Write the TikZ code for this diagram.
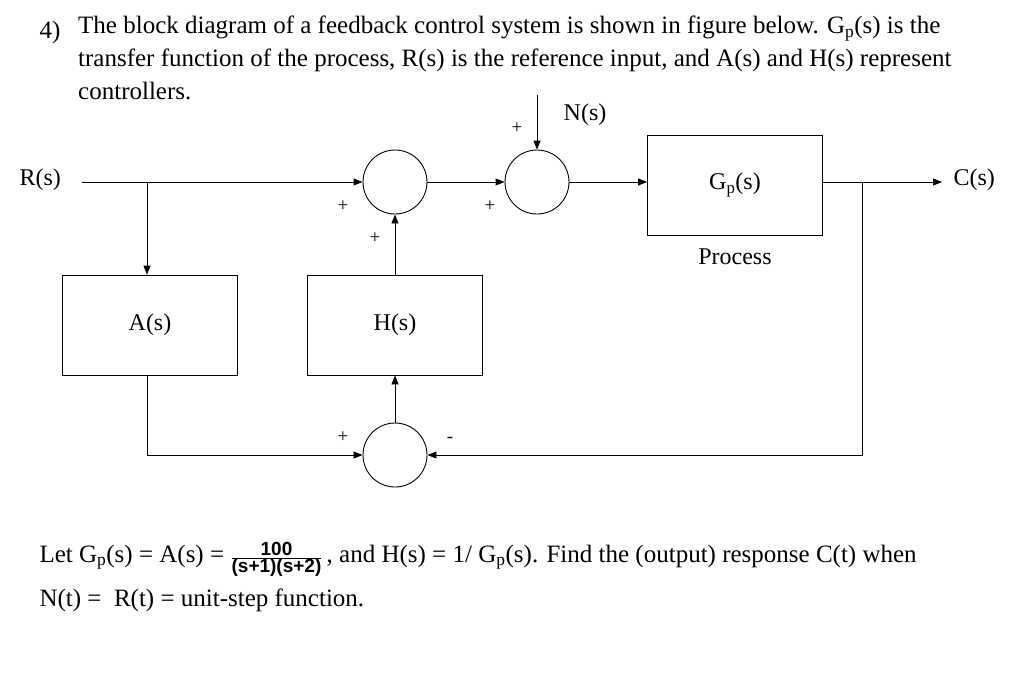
\documentclass[tikz,border=0pt]{standalone}
\usepackage{fontspec}
\setmainfont{Liberation Serif}
\newfontfamily\sansf{Liberation Sans}
\usetikzlibrary{arrows.meta}
\begin{document}
\begin{tikzpicture}[x=1pt,y=-1pt,
  every node/.style={font=\fontsize{24}{33}\selectfont},
  blk/.style={draw,line width=0.9pt,minimum width=175pt,minimum height=100pt,inner sep=0pt},
  sumn/.style={draw,circle,line width=0.9pt,minimum size=64pt,inner sep=0pt},
  ln/.style={line width=0.9pt},
  ar/.style={line width=0.9pt,-{Triangle[length=9pt,width=7pt]}},
  sg/.style={font=\fontsize{19}{20}\selectfont,inner sep=0pt}]
\useasboundingbox (0,0) rectangle (1024,673);
\node[anchor=west,font=\fontsize{25}{33}\selectfont] (n4) at (36,32) {4)};
\node[anchor=north west,align=left,inner sep=0pt,font=\fontsize{25}{33}\selectfont] (tx) at (78,16) {The block diagram of a feedback control system is shown in figure below. G\textsubscript{p}(s) is the\\transfer function of the process, R(s) is the reference input, and A(s) and H(s) represent\\controllers.};
\node[anchor=west] (r) at (16,180) {R(s)};
\coordinate (rs) at (82,182);
\coordinate (br) at (147,182);
\node[sumn] (s1) at (395,182) {};
\node[sumn] (s2) at (537,182) {};
\node[sumn] (s3) at (395,455) {};
\node[blk] (a) at (150,325) {A(s)};
\node[blk] (h) at (395,325) {H(s)};
\node[blk] (g) at (735,185) {G\textsubscript{p}(s)};
\node (pr) at (735,257) {Process};
\node[anchor=west] (c) at (950,180) {C(s)};
\coordinate (ce) at (942,182);
\coordinate (bc) at (862,182);
\coordinate (nt) at (537,95);
\node (ns) at (585,115) {N(s)};
\draw[ln] (rs) -- (br);
\draw[ar] (br) -- (s1.west);
\draw[ar] (br) -- (a.north -| br);
\draw[ar] (s1) -- (s2);
\draw[ar] (s2.east) -- (s2.east -| g.west);
\draw[ln] (g.east |- bc) -- (bc);
\draw[ar] (bc) -- (ce);
\draw[ar] (bc) |- (s3.east);
\draw[ar] (a.south -| br) |- (s3.west);
\draw[ar] (s3) -- (h);
\draw[ar] (h) -- (s1);
\draw[ar] (nt) -- (s2);
\node[sg] (p1) at (343,206) {+};
\node[sg] (p2) at (375,238) {+};
\node[sg] (p3) at (490,206) {+};
\node[sg] (p4) at (517,128) {+};
\node[sg] (p5) at (343,437) {+};
\node[sg] (m1) at (450,440) {-};
\node[anchor=west,font=\fontsize{25}{33}\selectfont] (l1) at (36,559) {Let G\textsubscript{p}(s) = A(s) = {\sansf\fontsize{19}{20}\selectfont$\frac{\textbf{100}}{\textbf{(s+1)(s+2)}}$}\,, and H(s) = 1/ G\textsubscript{p}(s). Find the (output) response C(t) when};
\node[anchor=west,font=\fontsize{25}{33}\selectfont] (l2) at (36,600) {N(t) =\ \ R(t) = unit-step function.};
\end{tikzpicture}
\end{document}
